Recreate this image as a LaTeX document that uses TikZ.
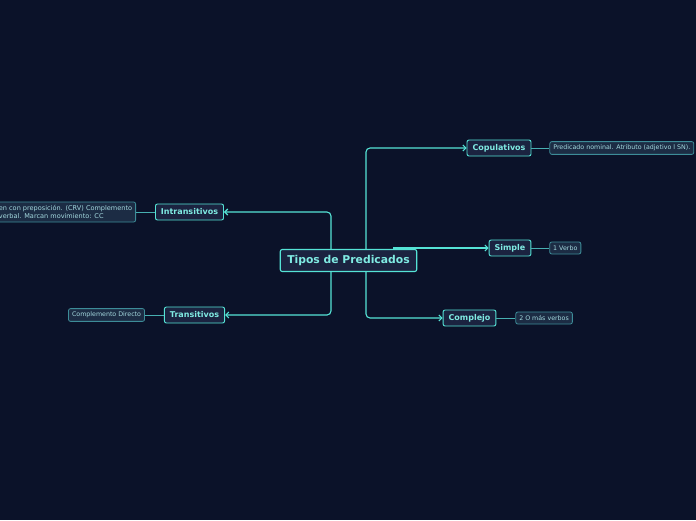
\documentclass[tikz,border=0pt]{standalone}
\usepackage{fontspec}
\setmainfont{DejaVu Sans}
\usetikzlibrary{positioning, arrows.meta}

\definecolor{bgnavy}{HTML}{0B1229}
\definecolor{boxfill}{HTML}{1B2340}
\definecolor{cyanline}{HTML}{55E3D6}
\definecolor{cyantext}{HTML}{80EBE3}
\definecolor{leaffill}{HTML}{1C2C44}
\definecolor{leafline}{HTML}{3D8C98}
\definecolor{leaftext}{HTML}{A4D9DF}

\tikzset{
  root/.style={draw=cyanline, fill=boxfill, text=cyantext, line width=1.1pt,
    rounded corners=2pt, font=\fontsize{10.8}{12}\selectfont\bfseries,
    inner xsep=7pt, minimum height=22pt},
  topic/.style={draw=cyanline, fill=boxfill, text=cyantext, line width=0.9pt,
    rounded corners=2pt, font=\fontsize{8}{9}\selectfont\bfseries,
    inner xsep=5.5pt, minimum height=16pt},
  leaf/.style={draw=leafline, fill=leaffill, text=leaftext, line width=0.8pt,
    rounded corners=2pt, font=\fontsize{6.3}{8}\selectfont,
    inner xsep=3.5pt, minimum height=12pt},
  link/.style={draw=cyanline, line width=1.1pt, rounded corners=4pt,
    -{Straight Barb[length=3pt, width=6pt]}},
  twig/.style={draw=leafline!60!cyanline, line width=0.9pt}
}

\begin{document}
\begin{tikzpicture}[x=1pt, y=-1pt]
      \fill[bgnavy] (0,0) rectangle (696,520);
      \useasboundingbox (0,0) rectangle (696,520);

      \node[root] (root) at (348.5,260.5) {Tipos de Predicados};

      \node[topic] (intr) at (189.5,212) {Intransitivos};
      \node[topic] (tran) at (194.5,315) {Transitivos};
      \node[topic] (copu) at (499,148) {Copulativos};
      \node[topic] (simp) at (510,248) {Simple};
      \node[topic] (comp) at (469.5,318) {Complejo};

      \node[leaf, left=19pt of intr, align=left, minimum height=19pt,
        font=\fontsize{6.55}{8}\selectfont] (intrd)
        {\hspace*{7pt}en con preposición. (CRV) Complemento\\\hspace*{7pt}verbal. Marcan movimiento: CC};
      \node[leaf, left=19pt of tran] (trand) {Complemento Directo};
      \node[leaf, right=18pt of copu] (copud) {Predicado nominal. Atributo (adjetivo l SN).};
      \node[leaf, right=18pt of simp] (simpd) {1 Verbo};
      \node[leaf, right=19pt of comp] (compd) {2 O más verbos};

      \coordinate (sfrom) at ([xshift=44.5pt]root.north);

      \draw[link] ([xshift=-17.5pt]root.north) |- (intr.east);
      \draw[link] ([xshift=-17.5pt]root.south) |- (tran.east);
      \draw[link] ([xshift=17.5pt]root.north) |- (copu.west);
      \draw[link] (simp.west -| sfrom) -- (simp.west);
      \draw[link] ([xshift=17.5pt]root.south) |- (comp.west);

      \draw[twig] (intr.west) -- (intrd.east);
      \draw[twig] (tran.west) -- (trand.east);
      \draw[twig] (copu.east) -- (copud.west);
      \draw[twig] (simp.east) -- (simpd.west);
      \draw[twig] (comp.east) -- (compd.west);
    \end{tikzpicture}
\end{document}
